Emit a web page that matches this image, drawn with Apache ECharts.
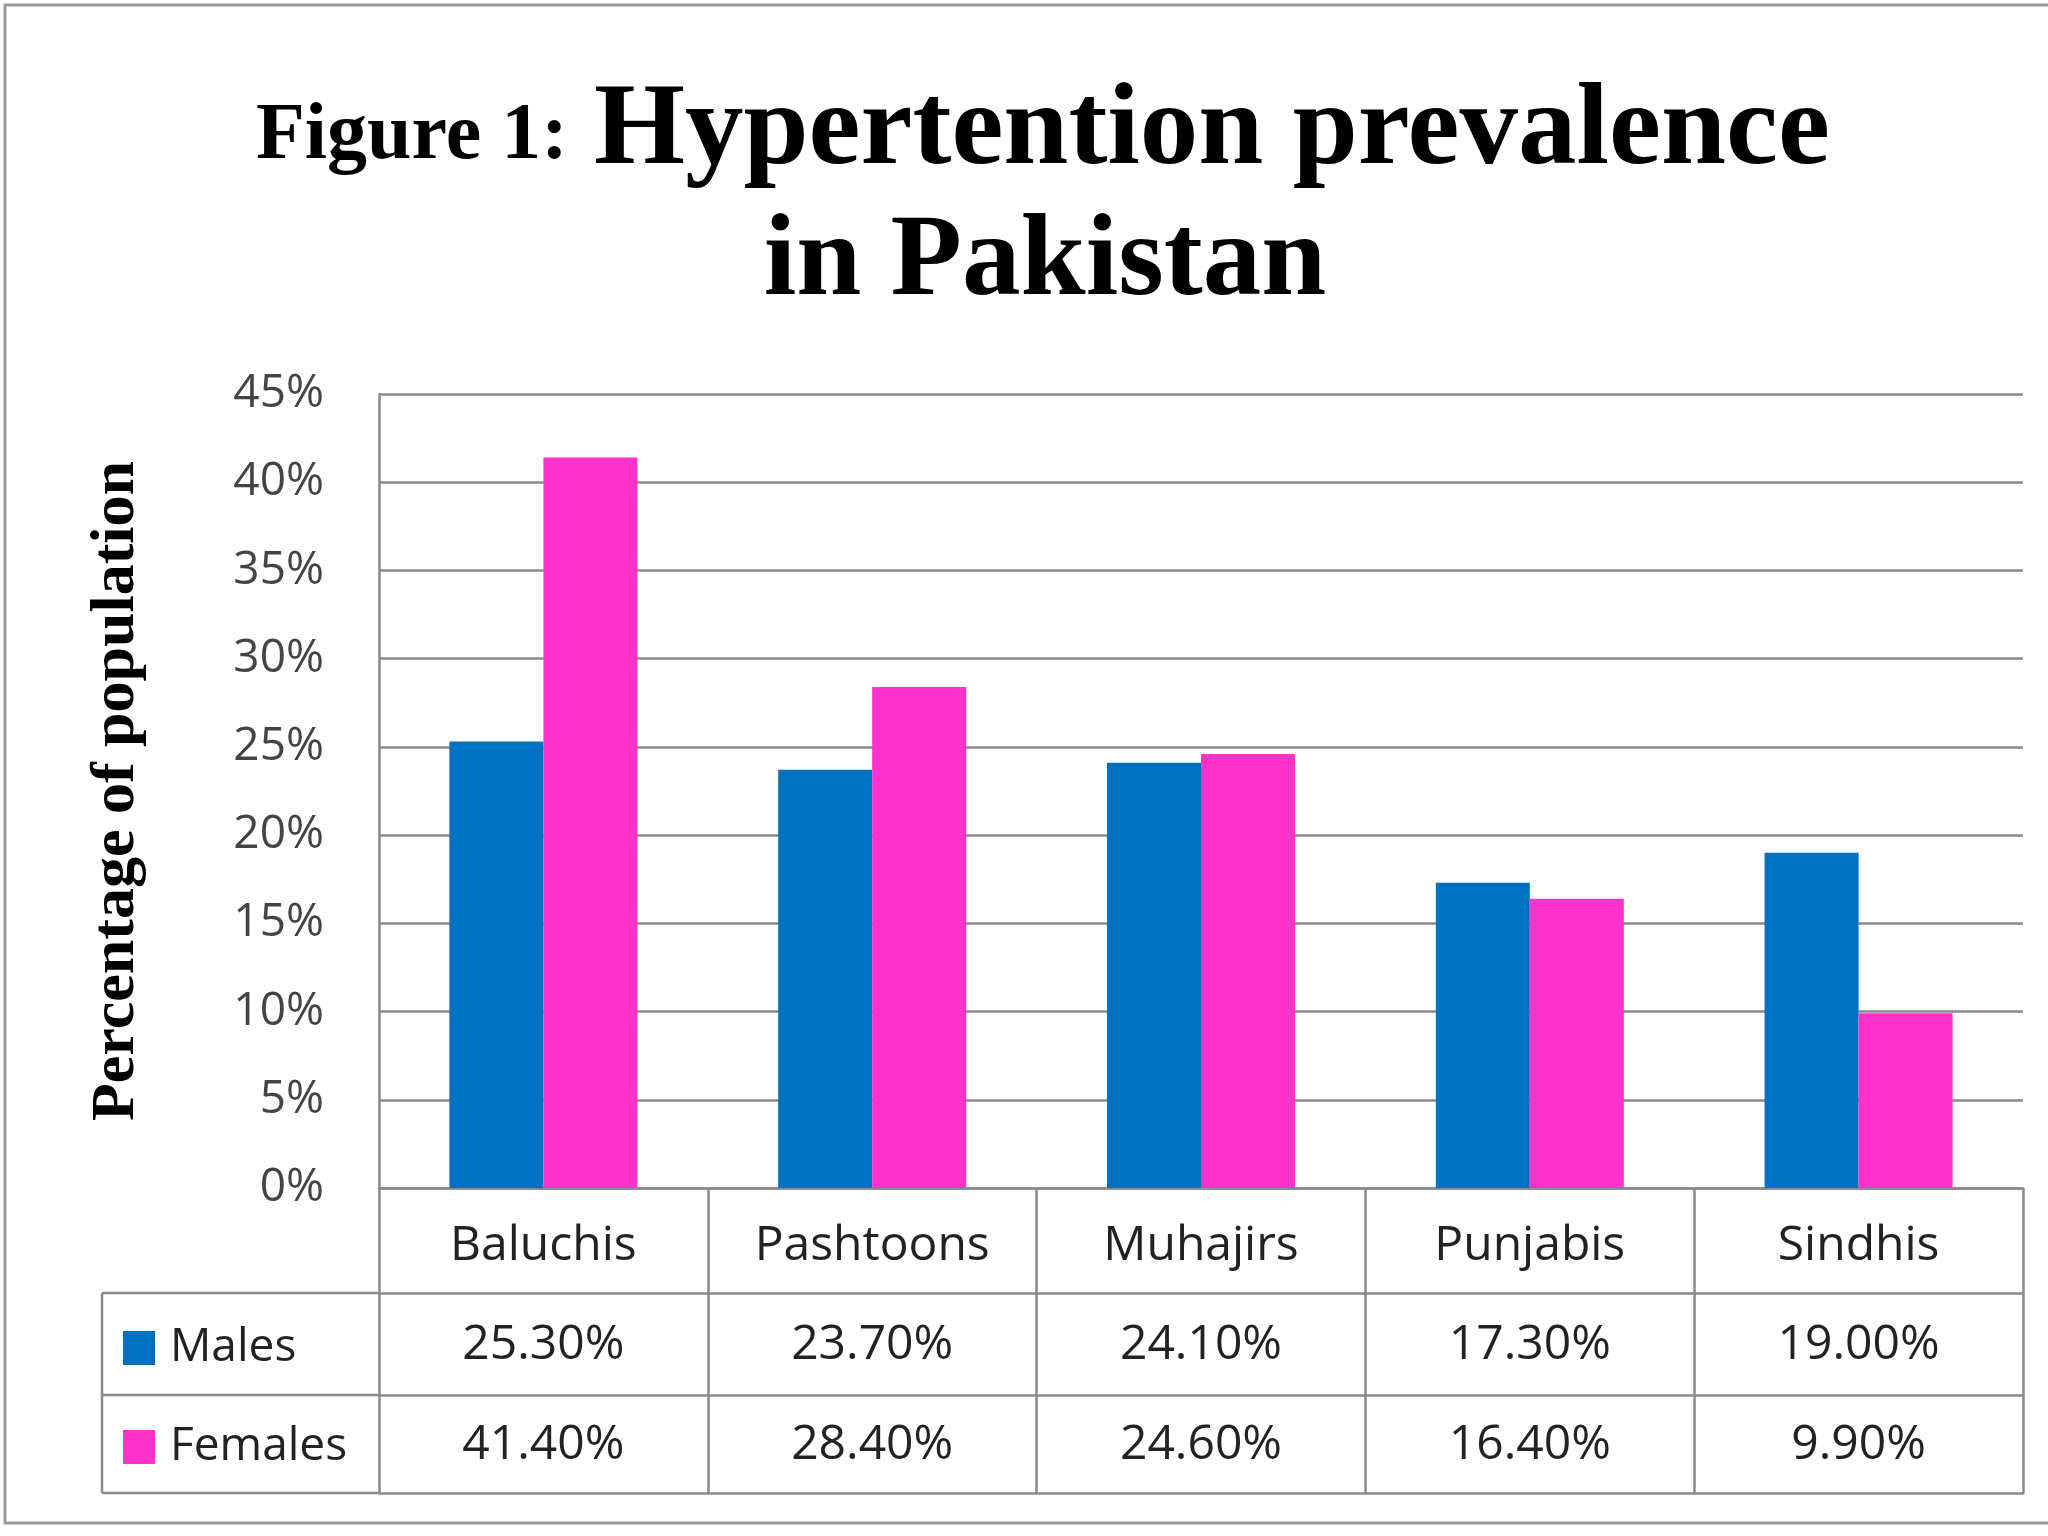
<!DOCTYPE html>
<html>
<head>
<meta charset="utf-8">
<script src="https://cdn.jsdelivr.net/npm/echarts@6/dist/echarts.min.js"></script>
<style>
  html, body { margin: 0; padding: 0; background: #fff; }
  #chart { width: 2048px; height: 1536px; }
</style>
</head>
<body>
<div id="chart"></div>
<script>
var categories = ['Baluchis', 'Pashtoons', 'Muhajirs', 'Punjabis', 'Sindhis'];
var males = [25.3, 23.7, 24.1, 17.3, 19.0];
var females = [41.4, 28.4, 24.6, 16.4, 9.9];
var seriesNames = ['Males', 'Females'];

var lineGrey = '#8a8a8a';
var tableFont = 'Open Sans';

function pct(v) {
	return v.toFixed(2) + '%';
}

var chart = echarts.init(document.getElementById('chart'));

function tableAxis(offset, tickLen, values, margin) {
	return {
		type: 'category',
		data: categories,
		position: 'bottom',
		offset: offset,
		axisLine: { lineStyle: { color: lineGrey, width: 2.5 } },
		axisTick: { show: tickLen > 0, length: tickLen, interval: 0, lineStyle: { color: lineGrey, width: 2.5 } },
		axisLabel: {
			show: !!values,
			interval: 0,
			margin: margin,
			verticalAlign: 'middle',
			fontSize: 48,
			fontFamily: tableFont,
			color: '#222',
			formatter: function(v, i) {
				return values ? pct(values[i]) : '';
			}
		}
	};
}

var option = {
	backgroundColor: '#fff',
	animation: false,
	grid: { left: 379, right: 25, top: 394, bottom: 348 },
	legend: {
		data: seriesNames,
		orient: 'vertical',
		left: 123,
		top: 1325,
		padding: 0,
		icon: 'rect',
		itemWidth: 32,
		itemHeight: 34,
		itemGap: 53,
		textStyle: { fontSize: 46, fontFamily: tableFont, color: '#222', lineHeight: 34, padding: [0, 0, 0, 10] }
	},
	xAxis: [
		{
			type: 'category',
			data: categories,
			axisLine: { lineStyle: { color: lineGrey, width: 2.5 } },
			axisTick: { show: true, length: 105, interval: 0, lineStyle: { color: lineGrey, width: 2.5 } },
			axisLabel: {
				interval: 0,
				margin: 58,
				verticalAlign: 'middle',
				fontSize: 48,
				fontFamily: tableFont,
				color: '#222'
			}
		},
		tableAxis(105, 102, males, 52),
		tableAxis(207, 98, females, 50),
		tableAxis(305, 0, null, 0)
	],
	yAxis: {
		type: 'value',
		min: 0,
		max: 45,
		interval: 5,
		name: 'Percentage of population',
		nameLocation: 'middle',
		nameGap: 231,
		nameTextStyle: { fontFamily: 'Liberation Serif', fontWeight: 'bold', fontSize: 62, color: '#000' },
		axisLine: { show: true, lineStyle: { color: lineGrey, width: 2.5 } },
		axisTick: { show: false },
		splitLine: { lineStyle: { color: lineGrey, width: 2.5 } },
		axisLabel: {
			formatter: '{value}%',
			margin: 55,
			fontSize: 46,
			fontFamily: tableFont,
			color: '#444'
		}
	},
	series: [
		{
			name: 'Males',
			type: 'bar',
			data: males,
			barWidth: 94,
			barGap: '0%',
			itemStyle: { color: '#0070C0' }
		},
		{
			name: 'Females',
			type: 'bar',
			data: females,
			barWidth: 94,
			barGap: '0%',
			itemStyle: { color: '#FF33CC' }
		}
	],
	graphic: [
		// outer frame
		{ type: 'rect', silent: true, z: -1, shape: { x: 5, y: 5, width: 2100, height: 1518 },
			style: { fill: null, stroke: '#9a9a9a', lineWidth: 3 } },
		// title
		{ type: 'text', x: 256, y: 137, style: { text: 'Figure 1:', fontFamily: 'Liberation Serif', fontWeight: 'bold', fontSize: 80, fill: '#000', align: 'left', verticalAlign: 'middle' } },
		{ type: 'text', x: 594, y: 133, style: { text: 'Hypertention prevalence', fontFamily: 'Liberation Serif', fontWeight: 'bold', fontSize: 117, fill: '#000', align: 'left', verticalAlign: 'middle' } },
		{ type: 'text', x: 1045, y: 264, style: { text: 'in Pakistan', fontFamily: 'Liberation Serif', fontWeight: 'bold', fontSize: 117, fill: '#000', align: 'center', verticalAlign: 'middle' } },
		// legend column of the data table
		{ type: 'line', shape: { x1: 102, y1: 1293, x2: 379, y2: 1293 }, style: { stroke: lineGrey, lineWidth: 2.5 } },
		{ type: 'line', shape: { x1: 102, y1: 1395, x2: 379, y2: 1395 }, style: { stroke: lineGrey, lineWidth: 2.5 } },
		{ type: 'line', shape: { x1: 102, y1: 1493, x2: 379, y2: 1493 }, style: { stroke: lineGrey, lineWidth: 2.5 } },
		{ type: 'line', shape: { x1: 102, y1: 1293, x2: 102, y2: 1493 }, style: { stroke: lineGrey, lineWidth: 2.5 } }
	]
};

chart.setOption(option);
</script>
</body>
</html>
